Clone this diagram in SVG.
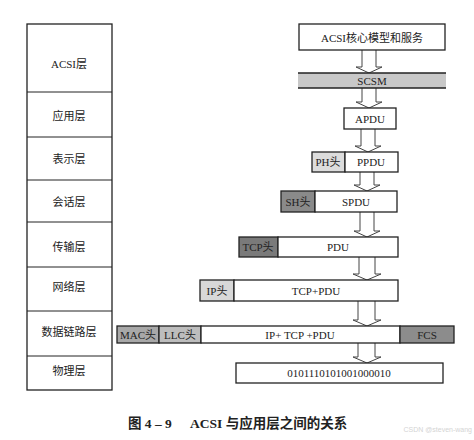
<svg xmlns="http://www.w3.org/2000/svg" width="474" height="440" viewBox="0 0 474 440">
<defs>
<style>
.box{fill:#fff;stroke:#222;stroke-width:1.3}
.t{font-family:"Liberation Serif","Noto Sans CJK SC",serif;font-size:11px;fill:#222;text-anchor:middle;dominant-baseline:central}
.cap{font-family:"Liberation Serif","Noto Sans CJK SC",serif;font-size:13.5px;font-weight:bold;fill:#222;dominant-baseline:central}
.arr{fill:#fff;stroke:#444;stroke-width:1}
</style>
</defs>
<rect width="474" height="440" fill="#fff"/>
<g id="osi-stack">
<rect class="box" x="27" y="24" width="85" height="366"/>
<line x1="27" y1="92" x2="112" y2="92" stroke="#222" stroke-width="1"/>
<line x1="27" y1="137" x2="112" y2="137" stroke="#222" stroke-width="1"/>
<line x1="27" y1="180" x2="112" y2="180" stroke="#222" stroke-width="1"/>
<line x1="27" y1="222" x2="112" y2="222" stroke="#222" stroke-width="1"/>
<line x1="27" y1="267" x2="112" y2="267" stroke="#222" stroke-width="1"/>
<line x1="27" y1="311" x2="112" y2="311" stroke="#222" stroke-width="1"/>
<line x1="27" y1="356" x2="112" y2="356" stroke="#222" stroke-width="1"/>
<text class="t" x="69" y="64">ACSI层</text>
<text class="t" x="69" y="116">应用层</text>
<text class="t" x="69" y="159">表示层</text>
<text class="t" x="69" y="202">会话层</text>
<text class="t" x="69" y="247">传输层</text>
<text class="t" x="69" y="287">网络层</text>
<text class="t" x="69" y="332">数据链路层</text>
<text class="t" x="69" y="371">物理层</text>
</g>
<g id="connectors">
<path class="arr" d="M362,50 V67 L356,67 L369,73 L382,67 L376,67 V50"/>
<path class="arr" d="M362,88 V102 L356,102 L369,108 L382,102 L376,102 V88"/>
<path class="arr" d="M361,129 V146 L355,146 L368,152 L381,146 L375,146 V129"/>
<path class="arr" d="M360,172 V185 L354,185 L367,191 L380,185 L374,185 V172"/>
<path class="arr" d="M360,212 V231 L354,231 L367,237 L380,231 L374,231 V212"/>
<path class="arr" d="M359,257 V274 L353,274 L367,280 L381,274 L375,274 V257"/>
<path class="arr" d="M358,301 V320 L353,320 L367,326 L381,320 L375,320 V301"/>
<path class="arr" d="M358,343 V357 L353,357 L367,363 L381,357 L375,357 V343"/>
</g>
<g id="acsi-core">
<rect class="box" x="299" y="24" width="146" height="26"/>
<text class="t" x="372" y="38">ACSI核心模型和服务</text>
</g>
<g id="scsm">
<rect x="298" y="73" width="148" height="15" fill="#c8c8c8"/>
<line x1="298" y1="73" x2="446" y2="73" stroke="#222" stroke-width="1.4"/>
<line x1="298" y1="88" x2="446" y2="88" stroke="#222" stroke-width="1.4"/>
<text class="t" x="372" y="81">SCSM</text>
</g>
<g id="apdu">
<rect class="box" x="344" y="108" width="52" height="21"/>
<text class="t" x="370" y="119">APDU</text>
</g>
<g id="ppdu">
<rect class="box" x="312" y="152" width="33" height="20" style="fill:#dcdcdc"/>
<rect class="box" x="345" y="152" width="53" height="20"/>
<text class="t" x="328" y="162">PH头</text>
<text class="t" x="371" y="162">PPDU</text>
</g>
<g id="spdu">
<rect class="box" x="281" y="191" width="34" height="21" style="fill:#8a8a8a"/>
<rect class="box" x="315" y="191" width="82" height="21"/>
<text class="t" x="298" y="202">SH头</text>
<text class="t" x="356" y="202">SPDU</text>
</g>
<g id="pdu">
<rect class="box" x="239" y="237" width="39" height="20" style="fill:#7a7a7a"/>
<rect class="box" x="278" y="237" width="120" height="20"/>
<text class="t" x="258" y="247">TCP头</text>
<text class="t" x="338" y="247">PDU</text>
</g>
<g id="tcp-pdu">
<rect class="box" x="200" y="280" width="34" height="21" style="fill:#d8d8d8"/>
<rect class="box" x="234" y="280" width="164" height="21"/>
<text class="t" x="217" y="291">IP头</text>
<text class="t" x="316" y="291">TCP+PDU</text>
</g>
<g id="frame">
<rect class="box" x="117" y="326" width="42" height="17" style="fill:#a8a8a8"/>
<rect class="box" x="159" y="326" width="42" height="17" style="fill:#bdbdbd"/>
<rect class="box" x="201" y="326" width="199" height="17"/>
<rect class="box" x="400" y="326" width="54" height="17" style="fill:#8c8c8c"/>
<text class="t" x="138" y="335">MAC头</text>
<text class="t" x="180" y="335">LLC头</text>
<text class="t" x="300" y="335">IP+ TCP +PDU</text>
<text class="t" x="427" y="335">FCS</text>
</g>
<g id="bits">
<rect class="box" x="236" y="363" width="207" height="20"/>
<text class="t" x="339" y="373">0101110101001000010</text>
</g>
<text class="cap" x="128" y="423">图 4 – 9</text>
<text class="cap" x="190" y="423">ACSI 与应用层之间的关系</text>
<text x="472" y="432" style="font-family:'Liberation Sans',sans-serif;font-size:7px;fill:#d4d4d4;text-anchor:end">CSDN @steven-wang</text>
</svg>
